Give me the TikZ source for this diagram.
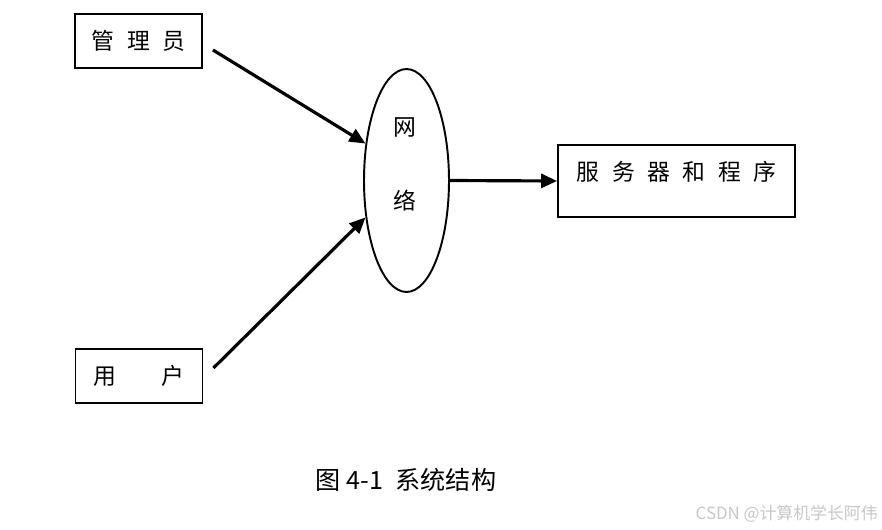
\documentclass[tikz,border=0pt]{standalone}
\usepackage{fontspec}
\setmainfont{Noto Sans CJK SC}
\usepackage{tikz}
\usetikzlibrary{positioning,shapes,shapes.geometric,arrows.meta}
\newcommand*{\zgap}{\hspace{0.25cm}}

\begin{document}
\begin{tikzpicture}[x=0.02cm, y=-0.02cm]
	\tikzstyle{box}=[rectangle, draw=black, line width=1.1pt, inner sep=0pt,
	text centered, text=black, font=\fontsize{13}{15}\selectfont]
	\tikzstyle{word}=[inner sep=0pt, text=black, font=\fontsize{13}{15}\selectfont]
	\tikzstyle{arrow}=[-{Triangle[length=0.32cm, width=0.28cm]}, line width=1.8pt]
	\useasboundingbox (0,0) rectangle (882,530);
	\node (Admin) [box, minimum width=2.54cm, minimum height=1.08cm] at (138.5,41)
	{管\zgap 理\zgap 员};
	\node (User) [box, minimum width=2.54cm, minimum height=1.08cm] at (139,376)
	{用\hspace{0.92cm}户};
	\node (Net) [ellipse, draw=black, line width=1.1pt, inner sep=0pt,
	minimum width=1.7cm, minimum height=4.46cm] at (406.5,180.5) {};
	\node (NetA) [word] at ([xshift=-0.03cm, yshift=1.07cm]Net.center) {网};
	\node (NetB) [word] at ([xshift=-0.03cm, yshift=-0.41cm]Net.center) {络};
	\node (Server) [box, minimum width=4.74cm, minimum height=1.44cm,
	text height=0.4cm, text depth=0.42cm] at (676.5,181)
	{服\zgap 务\zgap 器\zgap 和\zgap 程\zgap 序};
	\coordinate (AdminOut) at ([xshift=0.2cm, yshift=-0.18cm]Admin.east);
	\coordinate (UserOut) at ([xshift=0.2cm, yshift=0.16cm]User.east);
	
	\draw[arrow] (AdminOut) -- (Net.138);
	\draw[arrow] (UserOut) -- (Net.222);
	\draw[arrow] (Net.east) -- (Server.west);
	
	% caption and watermark
	\node (Caption) [word, font=\fontsize{14.3}{16}\selectfont] at (406,480) {图 4-1\hspace{0.25cm}系统结构};
	\node (Mark) [inner sep=0pt, anchor=east, text=black!22, font=\fontsize{9.6}{11}\selectfont] at (878,514) {CSDN @计算机学长阿伟};
\end{tikzpicture}
\end{document}
